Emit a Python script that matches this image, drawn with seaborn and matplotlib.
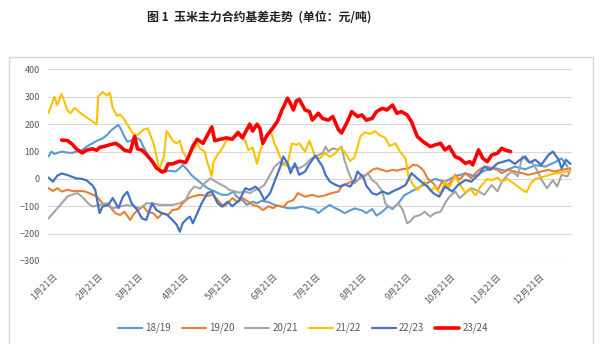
import matplotlib
matplotlib.use("Agg")
import matplotlib.pyplot as plt
import seaborn as sns
import pandas as pd
from matplotlib.patches import Rectangle

sns.set_theme(style="white")
plt.rcParams["font.family"] = ["Noto Sans CJK SC", "DejaVu Sans"]

# x positions are day-of-year (0 = Jan 1); values are basis in 元/吨
d1819 = [17, 19, 21, 23, 26, 30, 33, 36, 40, 43, 47, 50, 54, 57, 60, 64, 65, 67, 69, 71, 74, 76, 80, 82, 85, 88,
         90, 93, 97, 100, 104, 107, 109, 112, 115, 119, 122, 126, 131, 136, 140, 144, 146, 150, 153, 157, 160, 163,
         168, 172, 177, 181, 186, 191, 195, 200, 202, 207, 210, 213, 217, 220, 224, 227, 232, 235, 239, 242, 246,
         250, 253, 257, 261, 268, 275, 282, 289, 296, 303, 310, 316, 323, 330, 337, 344, 351, 358, 364, 369, 373]
v1819 = [82, 100, 91, 95, 100, 96, 95, 100, 105, 118, 130, 139, 148, 160, 178, 194, 197, 178, 155, 136, 140, 155,
         142, 118, 88, 63, 45, 33, 27, 30, 27, 39, 51, 35, 14, -4, -17, -34, -46, -58, -58, -46, -65, -77, -95, -83,
         -89, -80, -85, -95, -101, -107, -107, -101, -107, -113, -125, -105, -95, -105, -115, -125, -115, -108, -115,
         -125, -110, -134, -120, -100, -110, -89, -60, -40, -20, 0, -10, 10, 20, 10, 30, 40, 30, 45, 35, 50, 45, 60,
         75, 45]

d1920 = [17, 20, 23, 26, 30, 34, 39, 42, 45, 50, 54, 59, 63, 66, 69, 73, 75, 78, 82, 85, 89, 92, 95, 99, 102, 106,
         109, 113, 116, 121, 126, 130, 133, 137, 140, 143, 147, 150, 154, 157, 161, 164, 168, 171, 174, 178, 181,
         185, 188, 193, 198, 202, 207, 211, 216, 218, 222, 225, 229, 232, 235, 239, 242, 246, 249, 253, 256, 259,
         264, 267, 270, 274, 277, 281, 284, 287, 291, 296, 299, 303, 307, 311, 314, 318, 321, 325, 328, 332, 337,
         342, 346, 351, 355, 360, 364, 369, 375]
v1920 = [-34, -44, -34, -46, -40, -45, -44, -46, -52, -64, -89, -101, -126, -132, -120, -150, -132, -114, -101,
         -120, -126, -144, -125, -132, -114, -110, -89, -70, -64, -58, -62, -58, -77, -101, -89, -70, -85, -70, -83,
         -95, -101, -114, -100, -107, -97, -103, -85, -77, -52, -65, -58, -65, -60, -52, -46, -28, -16, -10, -5, 9,
         15, 33, 39, 33, 27, 33, 30, 35, 39, 51, 50, 33, 2, -16, -40, -10, -25, 15, -3, 21, 3, 27, 39, 45, 39, 33,
         21, 33, 27, 21, 15, 21, 27, 33, 27, 33, 39]

d2021 = [17, 21, 26, 30, 33, 37, 41, 44, 47, 52, 57, 61, 66, 71, 75, 80, 84, 89, 93, 98, 102, 107, 111, 114, 117,
         121, 124, 128, 131, 135, 138, 141, 145, 148, 152, 155, 159, 162, 165, 169, 172, 176, 179, 183, 186, 189,
         193, 196, 200, 205, 207, 209, 212, 216, 218, 220, 223, 225, 227, 229, 232, 234, 236, 239, 242, 246, 248,
         250, 253, 257, 260, 263, 265, 268, 272, 275, 279, 282, 286, 289, 292, 296, 299, 303, 307, 312, 316, 321,
         325, 328, 332, 335, 339, 342, 346, 349, 352, 356, 359, 363, 366, 369, 373, 375]
v2021 = [-144, -120, -89, -64, -58, -52, -70, -89, -101, -95, -89, -107, -101, -95, -100, -107, -89, -90, -95, -95,
         -95, -89, -77, -46, -28, -35, -16, 2, -8, -20, -28, -40, -46, -50, -46, -52, -40, -34, -22, 15, 45, 63, 57,
         39, 45, 39, 51, 69, 82, 94, 118, 100, 112, 106, 118, 69, 21, -4, -16, -4, 15, 9, 21, -4, -16, -46, -89,
         -101, -107, -89, -113, -162, -156, -138, -132, -120, -138, -125, -120, -89, -65, -46, -70, -52, -34, -45,
         -58, -22, -45, -10, 15, 27, 10, 82, 63, 58, 33, -10, -34, -5, -28, 15, 9, 33]

d2122 = [17, 21, 23, 25, 26, 30, 32, 35, 39, 43, 50, 51, 54, 57, 59, 61, 64, 66, 68, 72, 75, 78, 80, 82, 85, 89,
         92, 93, 96, 98, 100, 102, 105, 107, 109, 112, 115, 119, 121, 124, 126, 129, 130, 133, 136, 139, 144, 148,
         152, 154, 157, 160, 162, 165, 169, 172, 176, 178, 181, 184, 187, 189, 193, 196, 200, 203, 207, 210, 214,
         217, 220, 224, 227, 231, 234, 238, 241, 244, 248, 251, 255, 258, 262, 264, 267, 270, 275, 279, 282, 286,
         289, 292, 296, 299, 303, 306, 310, 313, 318, 321, 325, 328, 332, 337, 342, 345, 348, 351, 358, 364, 371,
         375]
v2122 = [241, 300, 270, 300, 310, 250, 240, 260, 240, 225, 200, 300, 318, 305, 315, 260, 230, 235, 225, 190, 165,
         160, 170, 180, 185, 130, 60, 35, 80, 175, 160, 140, 130, 140, 100, 75, 100, 130, 110, 100, 60, 10, 60, 90,
         110, 140, 150, 160, 140, 105, 115, 55, 100, 140, 180, 130, 80, 50, 55, 130, 125, 130, 100, 140, 80, 75, 95,
         80, 95, 115, 100, 65, 80, 155, 170, 165, 175, 160, 150, 120, 130, 100, 75, 5, -20, -40, -10, -45, -30, -55,
         -10, -30, 10, -20, -50, -35, -60, -30, 0, -5, 5, -10, 0, -20, -40, -48, -15, 0, 10, 20, 25, 30]

d2223 = [17, 20, 23, 26, 30, 33, 36, 40, 43, 47, 49, 52, 54, 58, 61, 65, 68, 71, 74, 78, 81, 84, 88, 91, 95, 98,
         102, 105, 107, 109, 112, 114, 116, 119, 122, 126, 129, 133, 136, 140, 143, 148, 152, 155, 159, 162, 165,
         169, 172, 176, 178, 181, 183, 186, 189, 193, 196, 200, 202, 205, 207, 210, 214, 217, 220, 224, 227, 229,
         233, 235, 239, 242, 246, 250, 253, 258, 262, 266, 270, 274, 277, 281, 285, 289, 294, 298, 303, 307, 312,
         316, 320, 325, 329, 333, 337, 340, 344, 347, 351, 355, 360, 363, 367, 369, 372, 375]
v2223 = [5, -10, 12, 20, 14, 8, 2, 0, -5, -23, -40, -125, -101, -95, -70, -107, -65, -47, -89, -114, -144, -150,
         -89, -114, -126, -130, -150, -168, -193, -162, -145, -138, -162, -126, -89, -52, -46, -89, -101, -83, -100,
         -77, -34, -40, -28, -45, -77, -52, -10, 45, 82, 57, 21, 57, 15, 27, 55, 85, 69, 45, 15, -10, -22, -28, -20,
         -28, -4, 27, 5, -25, -52, -58, -46, -55, -46, -34, -22, 21, 2, -16, -28, -52, -65, -28, -46, -22, -4, -10,
         15, 45, 33, 57, 63, 69, 55, 68, 82, 60, 70, 51, 88, 100, 70, 39, 70, 55]

d2324 = [26, 30, 33, 36, 40, 43, 47, 50, 52, 56, 59, 63, 66, 69, 73, 76, 78, 81, 84, 88, 91, 95, 97, 99, 102, 107,
         111, 113, 116, 119, 123, 126, 129, 131, 135, 139, 143, 147, 150, 153, 155, 157, 160, 162, 164, 167, 170,
         174, 177, 181, 183, 185, 187, 189, 193, 196, 198, 202, 205, 209, 212, 216, 218, 222, 225, 229, 232, 235,
         239, 242, 246, 249, 253, 256, 259, 263, 266, 270, 274, 279, 282, 286, 289, 292, 296, 299, 303, 306, 308,
         312, 315, 318, 321, 325, 328, 330, 334]
v2324 = [142, 140, 128, 110, 95, 105, 110, 105, 115, 120, 125, 130, 120, 105, 100, 155, 110, 105, 90, 65, 40, 25,
         30, 55, 55, 65, 60, 80, 120, 145, 130, 160, 190, 140, 145, 150, 145, 170, 150, 180, 200, 175, 200, 185, 130,
         160, 180, 210, 250, 295, 275, 252, 285, 291, 252, 246, 215, 240, 221, 215, 228, 179, 168, 209, 246, 228,
         234, 215, 221, 246, 258, 252, 270, 240, 246, 234, 209, 155, 136, 118, 124, 130, 106, 118, 81, 75, 57, 63,
         51, 106, 75, 63, 87, 94, 112, 106, 100]

season_names = ["18/19", "19/20", "20/21", "21/22", "22/23", "23/24"]
season_days = [d1819, d1920, d2021, d2122, d2223, d2324]
season_vals = [v1819, v1920, v2021, v2122, v2223, v2324]

tick_days = [20, 51, 79, 110, 140, 171, 201, 232, 263, 293, 324, 354]
tick_labels = [f"{m}月21日" for m in range(1, 13)]

colors = ["#5B9BD5", "#ED7D31", "#A5A5A5", "#FFC000", "#4472C4", "#FF0000"]
widths = [1.5, 1.5, 1.5, 1.5, 1.6, 2.6]

frames = [pd.DataFrame({"day": d, "basis": v, "season": n})
          for n, d, v in zip(season_names, season_days, season_vals)]
df = pd.concat(frames, ignore_index=True)

fig = plt.figure(figsize=(6.0, 3.44), dpi=100)

# outer chart frame
fig.patches.append(Rectangle((0.015, -0.01), 0.973, 0.844, transform=fig.transFigure,
                             facecolor="none", edgecolor="#D9D9D9", linewidth=1.0, zorder=0))

ax = fig.add_axes([0.08, 0.2413, 0.873, 0.5567])
for i, name in enumerate(season_names):
    sub = df[df["season"] == name]
    sns.lineplot(data=sub, x="day", y="basis", ax=ax, color=colors[i], linewidth=widths[i],
                 label=name, sort=False, zorder=2 + i)

ax.set_xlim(16.6, 376)
ax.set_ylim(-300, 400)
ax.set_yticks(range(-300, 401, 100))
ax.set_xticks(tick_days)
ax.set_xticklabels(tick_labels, rotation=45, ha="right", rotation_mode="anchor")
ax.grid(axis="y", color="#D9D9D9", linewidth=0.8)
ax.grid(axis="x", visible=False)
for s in ax.spines.values():
    s.set_visible(False)
ax.tick_params(axis="both", length=0, labelsize=6.5, labelcolor="#595959")
ax.tick_params(axis="x", pad=8)
ax.tick_params(axis="y", pad=6)
ax.set_xlabel("")
ax.set_ylabel("")

leg = ax.legend(loc="center", bbox_to_anchor=(0.505, 0.046), bbox_transform=fig.transFigure,
                ncol=6, frameon=False, fontsize=7, handlelength=2.5, handletextpad=0.3,
                columnspacing=1.1)
for t in leg.get_texts():
    t.set_color("#595959")

fig.text(0.432, 0.95, "图 1  玉米主力合约基差走势  (单位：元/吨)", ha="center", va="center",
         fontsize=8.6, fontweight="bold", color="#222222")

fig.savefig("out.png", dpi=100)
